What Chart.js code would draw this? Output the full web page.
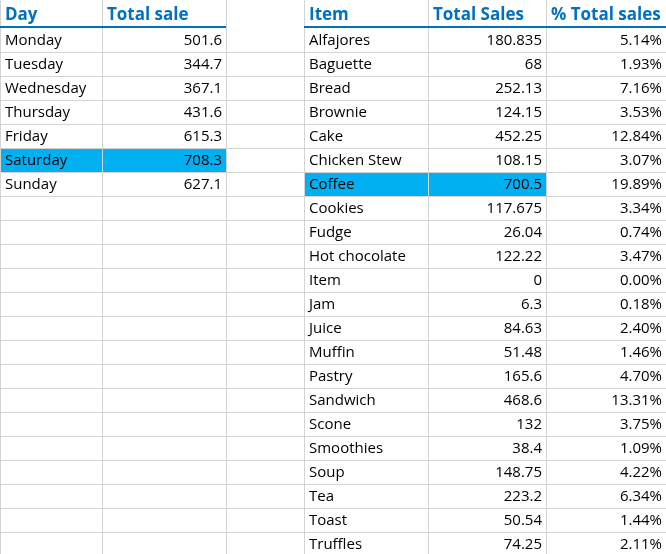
<!DOCTYPE html>
<html>
<head>
<meta charset="utf-8">
<script src="https://cdn.jsdelivr.net/npm/chart.js@4/dist/chart.umd.min.js"></script>
<style>
  html, body { margin: 0; padding: 0; background: #fff; }
  canvas { display: block; }
</style>
</head>
<body>
<canvas id="sheet" width="666" height="554"></canvas>
<script>
const days = ['Monday', 'Tuesday', 'Wednesday', 'Thursday', 'Friday', 'Saturday', 'Sunday']
const dayTotals = ['501.6', '344.7', '367.1', '431.6', '615.3', '708.3', '627.1']
const items = ['Alfajores', 'Baguette', 'Bread', 'Brownie', 'Cake', 'Chicken Stew', 'Coffee', 'Cookies',
    'Fudge', 'Hot chocolate', 'Item', 'Jam', 'Juice', 'Muffin', 'Pastry', 'Sandwich', 'Scone',
    'Smoothies', 'Soup', 'Tea', 'Toast', 'Truffles']
const itemSales = ['180.835', '68', '252.13', '124.15', '452.25', '108.15', '700.5', '117.675',
    '26.04', '122.22', '0', '6.3', '84.63', '51.48', '165.6', '468.6', '132',
    '38.4', '148.75', '223.2', '50.54', '74.25']
const itemShare = ['5.14%', '1.93%', '7.16%', '3.53%', '12.84%', '3.07%', '19.89%', '3.34%',
    '0.74%', '3.47%', '0.00%', '0.18%', '2.40%', '1.46%', '4.70%', '13.31%', '3.75%',
    '1.09%', '4.22%', '6.34%', '1.44%', '2.11%']
const headers = ['Day', 'Total sale', '', 'Item', 'Total Sales', '% Total sales']
const highlightDay = 'Saturday'
const highlightItem = 'Coffee'

// sheet geometry in "cell units": column edges and row edges
const colEdges = [0, 102, 226, 304, 428, 546, 666]
const headerH = 28
const rowH = 24

const tablePlugin = {
    id: 'tablePlugin',
    afterDraw(chart) {
        const ctx = chart.ctx
        const x = chart.scales.x
        const y = chart.scales.y
        const px = v => x.getPixelForValue(v)
        const py = v => y.getPixelForValue(v)
        const rowTop = r => r === 0 ? 0 : headerH + (r - 1) * rowH
        const rowBottom = r => headerH + r * rowH
        const nRows = 23

        ctx.save()

        // highlighted cells
        ctx.fillStyle = '#00B0F0'
        const dr = days.indexOf(highlightDay) + 1
        ctx.fillRect(px(colEdges[0]), py(rowTop(dr)), px(colEdges[2]) - px(colEdges[0]), py(rowBottom(dr)) - py(rowTop(dr)))
        const ir = items.indexOf(highlightItem) + 1
        ctx.fillRect(px(colEdges[3]), py(rowTop(ir)), px(colEdges[5]) - px(colEdges[3]), py(rowBottom(ir)) - py(rowTop(ir)))

        // grid lines
        ctx.strokeStyle = '#D4D4D4'
        ctx.lineWidth = 1
        ctx.beginPath()
        colEdges.forEach(c => {
            ctx.moveTo(Math.round(px(c)) + 0.5, py(0))
            ctx.lineTo(Math.round(px(c)) + 0.5, py(554))
        })
        for (let r = 1; r <= nRows; r++) {
            ctx.moveTo(px(0), Math.round(py(rowBottom(r))) + 0.5)
            ctx.lineTo(px(666), Math.round(py(rowBottom(r))) + 0.5)
        }
        ctx.stroke()

        // header underline
        ctx.strokeStyle = '#0070C0'
        ctx.lineWidth = 2
        ctx.beginPath()
        ;[[0, 2], [3, 6]].forEach(([a, b]) => {
            ctx.moveTo(px(colEdges[a]), py(headerH) - 1)
            ctx.lineTo(px(colEdges[b]), py(headerH) - 1)
        })
        ctx.stroke()

        const cell = (text, col, r, align) => {
            const cy = (py(rowTop(r)) + py(rowBottom(r))) / 2 + 1
            ctx.textAlign = align
            ctx.textBaseline = 'middle'
            const xx = align === 'right' ? px(colEdges[col + 1]) - 4 : px(colEdges[col]) + 5
            ctx.fillText(text, xx, cy)
        }

        // headers
        ctx.fillStyle = '#0070C0'
        ctx.font = 'bold 17px "Open Sans", sans-serif'
        headers.forEach((h, i) => { if (h) cell(h, i, 0, 'left') })

        // body
        ctx.fillStyle = '#000'
        ctx.font = '15px "Open Sans", sans-serif'
        days.forEach((d, i) => {
            cell(d, 0, i + 1, 'left')
            cell(dayTotals[i], 1, i + 1, 'right')
        })
        items.forEach((it, i) => {
            cell(it, 3, i + 1, 'left')
            cell(itemSales[i], 4, i + 1, 'right')
            cell(itemShare[i], 5, i + 1, 'right')
        })
        ctx.restore()
    }
}

new Chart(document.getElementById('sheet').getContext('2d'), {
    type: 'scatter',
    data: { datasets: [{ data: [] }] },
    options: {
        responsive: false,
        animation: false,
        layout: { padding: 0 },
        plugins: { legend: { display: false }, tooltip: { enabled: false } },
        scales: {
            x: { type: 'linear', min: 0, max: 666, display: false },
            y: { type: 'linear', min: 0, max: 554, reverse: true, display: false }
        }
    },
    plugins: [tablePlugin]
})
</script>
</body>
</html>
